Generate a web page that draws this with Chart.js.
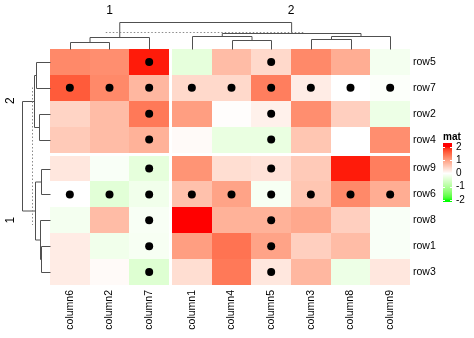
<!DOCTYPE html>
<html>
<head>
<meta charset="utf-8">
<script src="https://cdn.jsdelivr.net/npm/chart.js@4.4.1/dist/chart.umd.min.js"></script>
<style>
  html, body { margin: 0; padding: 0; background: #fff; }
  #wrap { width: 474px; height: 338px; position: relative; }
</style>
</head>
<body>
<div id="wrap"><canvas id="heatmap"></canvas></div>
<script>
// --- data (row / column order as clustered) ---
const rowNames = ["row5", "row7", "row2", "row4", "row9", "row6", "row8", "row1", "row3"];
const colNames = ["column6", "column2", "column7", "column1", "column4", "column5", "column3", "column8", "column9"];
const matValues = [
  [1.2, 1.15, 1.95, -0.35, 0.7, 0.4, 1.2, 0.85, -0.15],   // row5
  [1.6, 1.2, 0.75, 0.4, 0.4, 1.3, 0.2, 0.0, -0.05],       // row7
  [0.45, 0.7, 1.35, 1.0, 0.02, 0.15, 1.15, 0.5, -0.25],   // row2
  [0.55, 0.7, 0.8, 0.05, -0.3, -0.3, 0.6, 0.0, 1.15],     // row4
  [0.25, -0.08, -0.35, 1.1, 0.35, 0.3, 0.55, 1.95, 1.3],  // row9
  [0.0, -0.4, -0.2, 0.65, 0.95, -0.12, 0.6, 1.2, 0.85],   // row6
  [-0.15, 0.7, -0.1, 2.0, 0.8, 0.8, 0.9, 0.5, -0.08],     // row8
  [0.2, -0.2, -0.12, 1.0, 1.4, 0.95, 0.5, 0.7, -0.08],    // row1
  [0.2, 0.05, -0.45, 0.35, 1.35, 0.25, 0.75, -0.25, 0.25] // row3
];
const rowSplit = 4; // rows before this index are slice "2"
const colSplit = 3; // columns before this index are slice "1"
const rowSliceLabels = ["2", "1"];
const colSliceLabels = ["1", "2"];
const dotCols = ["column7", "column5"];
const dotRows = ["row7", "row6"];
// dendrograms: [mergeHeight, left, right]
const colTree = [27.5, [12, [7, "column6", "column2"], "column7"],
  [15.7, [13, "column1", [9.5, "column4", "column5"]], [13.2, [10.5, "column3", "column8"], "column9"]]];
const rowTree = [28.3, [16, [14, "row5", "row7"], [11, "row2", "row4"]],
  [15, [9, "row9", "row6"], [10, "row8", [9, "row1", "row3"]]]];
const colCut = 16.8;
const rowCut = 17.7;
const legendBreaks = [2, 1, 0, -1, -2];
const colorStops = [-2, 0, 2];
const colorValues = [[0, 255, 0], [255, 255, 255], [255, 0, 0]];

const X_GAP = 0.076;
const Y_GAP = 0.116;
const FONT = "'Liberation Sans', Arial, sans-serif";

function colPos(i) { return i + (i >= colSplit ? X_GAP : 0); }
function rowPos(i) { return i + (i >= rowSplit ? Y_GAP : 0); }

// --- colour ramp in LAB space (like colorRamp2) ---
function toLin(c) { c /= 255; return c <= 0.04045 ? c / 12.92 : Math.pow((c + 0.055) / 1.055, 2.4); }
function fromLin(c) {
  c = c <= 0.0031308 ? 12.92 * c : 1.055 * Math.pow(Math.max(c, 0), 1 / 2.4) - 0.055;
  return Math.round(Math.max(0, Math.min(1, c)) * 255);
}
function rgbToLab(rgb) {
  const r = toLin(rgb[0]), g = toLin(rgb[1]), b = toLin(rgb[2]);
  const X = (0.4124 * r + 0.3576 * g + 0.1805 * b) / 0.95047;
  const Y = 0.2126 * r + 0.7152 * g + 0.0722 * b;
  const Z = (0.0193 * r + 0.1192 * g + 0.9505 * b) / 1.08883;
  const f = t => t > 0.008856 ? Math.cbrt(t) : 7.787 * t + 16 / 116;
  const fx = f(X), fy = f(Y), fz = f(Z);
  return [116 * fy - 16, 500 * (fx - fy), 200 * (fy - fz)];
}
function labToRgb(lab) {
  const fy = (lab[0] + 16) / 116, fx = fy + lab[1] / 500, fz = fy - lab[2] / 200;
  const finv = t => { const t3 = t * t * t; return t3 > 0.008856 ? t3 : (t - 16 / 116) / 7.787; };
  const X = finv(fx) * 0.95047, Y = finv(fy), Z = finv(fz) * 1.08883;
  const r = 3.2406 * X - 1.5372 * Y - 0.4986 * Z;
  const g = -0.9689 * X + 1.8758 * Y + 0.0415 * Z;
  const b = 0.0557 * X - 0.2040 * Y + 1.0570 * Z;
  return "rgb(" + fromLin(r) + "," + fromLin(g) + "," + fromLin(b) + ")";
}
const labStops = colorValues.map(rgbToLab);
function colorFor(v) {
  v = Math.max(colorStops[0], Math.min(colorStops[colorStops.length - 1], v));
  let i = 0;
  while (i < colorStops.length - 2 && v > colorStops[i + 1]) i++;
  const t = (v - colorStops[i]) / (colorStops[i + 1] - colorStops[i]);
  const a = labStops[i], b = labStops[i + 1];
  return labToRgb([a[0] + (b[0] - a[0]) * t, a[1] + (b[1] - a[1]) * t, a[2] + (b[2] - a[2]) * t]);
}

// dots on selected rows/columns
const dotPoints = [];
rowNames.forEach((rn, r) => colNames.forEach((cn, c) => {
  if (dotCols.includes(cn) || dotRows.includes(rn)) {
    dotPoints.push({ x: colPos(c) + 0.5, y: rowPos(r) + 0.5 });
  }
}));

// --- plugin: cells, dendrograms, slice titles, legend ---
const heatmapPlugin = {
  id: "heatmapCells",
  beforeDatasetsDraw(chart) {
    const { ctx, scales: { x, y } } = chart;
    matValues.forEach((row, r) => row.forEach((v, c) => {
      const x0 = Math.round(x.getPixelForValue(colPos(c)));
      const x1 = Math.round(x.getPixelForValue(colPos(c) + 1));
      const y0 = Math.round(y.getPixelForValue(rowPos(r)));
      const y1 = Math.round(y.getPixelForValue(rowPos(r) + 1));
      ctx.fillStyle = colorFor(v);
      ctx.fillRect(x0, y0, x1 - x0, y1 - y0);
    }));
  },
  afterDraw(chart) {
    const { ctx, chartArea, scales: { x, y } } = chart;
    ctx.save();
    ctx.strokeStyle = "#505050";
    ctx.lineWidth = 1;

    // generic dendrogram: pos = along heatmap, depth = pixel distance from heatmap
    function drawTree(node, leafPos, line) {
      if (typeof node === "string") return { pos: leafPos(node), h: 0 };
      const L = drawTree(node[1], leafPos, line);
      const R = drawTree(node[2], leafPos, line);
      const h = node[0];
      line(L.pos, L.h, L.pos, h);
      line(L.pos, h, R.pos, h);
      line(R.pos, h, R.pos, R.h);
      return { pos: (L.pos + R.pos) / 2, h, L, R };
    }
    const colLeaf = n => Math.round(x.getPixelForValue(colPos(colNames.indexOf(n)) + 0.5)) + 0.5;
    const rowLeaf = n => Math.round(y.getPixelForValue(rowPos(rowNames.indexOf(n)) + 0.5)) + 0.5;
    const top = chartArea.top, left = chartArea.left;
    const colLine = (p1, h1, p2, h2) => {
      ctx.beginPath();
      ctx.moveTo(p1, Math.round(top - h1) + 0.5);
      ctx.lineTo(p2, Math.round(top - h2) + 0.5);
      ctx.stroke();
    };
    const rowLine = (p1, h1, p2, h2) => {
      ctx.beginPath();
      ctx.moveTo(Math.round(left - h1) + 0.5, p1);
      ctx.lineTo(Math.round(left - h2) + 0.5, p2);
      ctx.stroke();
    };
    const cRoot = drawTree(colTree, colLeaf, colLine);
    const rRoot = drawTree(rowTree, rowLeaf, rowLine);

    // dotted cut lines
    ctx.strokeStyle = "#8a8a8a";
    ctx.setLineDash([1.5, 2]);
    ctx.beginPath();
    ctx.moveTo(cRoot.L.pos - 14, Math.round(top - colCut) + 0.5);
    ctx.lineTo(cRoot.R.pos + 13, Math.round(top - colCut) + 0.5);
    ctx.stroke();
    ctx.beginPath();
    ctx.moveTo(Math.round(left - rowCut) + 0.5, rRoot.L.pos - 14);
    ctx.lineTo(Math.round(left - rowCut) + 0.5, rRoot.R.pos + 14);
    ctx.stroke();
    ctx.setLineDash([]);

    // slice titles
    ctx.fillStyle = "#000";
    ctx.font = "12px " + FONT;
    ctx.textAlign = "center";
    ctx.textBaseline = "middle";
    const colBlocks = [[0, colSplit], [colSplit, colNames.length]];
    colBlocks.forEach((b, i) => {
      const cx = (x.getPixelForValue(colPos(b[0])) + x.getPixelForValue(colPos(b[1] - 1) + 1)) / 2;
      ctx.fillText(colSliceLabels[i], cx, 10.5);
    });
    const rowBlocks = [[0, rowSplit], [rowSplit, rowNames.length]];
    rowBlocks.forEach((b, i) => {
      const cy = (y.getPixelForValue(rowPos(b[0])) + y.getPixelForValue(rowPos(b[1] - 1) + 1)) / 2;
      ctx.save();
      ctx.translate(10.5, cy);
      ctx.rotate(-Math.PI / 2);
      ctx.fillText(rowSliceLabels[i], 0, 0);
      ctx.restore();
    });

    // colour legend
    const bx = chartArea.right + 33, bw = 9;
    const yOf = v => 173.4 - v * 13.3;
    const barTop = 143, barBot = 202;
    for (let py = barTop; py < barBot; py++) {
      ctx.fillStyle = colorFor((173.4 - (py + 0.5)) / 13.3);
      ctx.fillRect(bx, py, bw, 1);
    }
    ctx.strokeStyle = "#fff";
    legendBreaks.forEach(v => {
      const ty = Math.round(yOf(v)) + 0.5;
      ctx.beginPath();
      ctx.moveTo(bx, ty); ctx.lineTo(bx + 2, ty);
      ctx.moveTo(bx + bw - 2, ty); ctx.lineTo(bx + bw, ty);
      ctx.stroke();
    });
    ctx.fillStyle = "#000";
    ctx.textAlign = "left";
    ctx.font = "bold 10px " + FONT;
    ctx.fillText("mat", bx, 137);
    ctx.font = "10px " + FONT;
    legendBreaks.forEach(v => ctx.fillText(String(v), bx + 13, yOf(v)));
    ctx.restore();
  }
};

new Chart(document.getElementById("heatmap"), {
  type: "scatter",
  data: {
    datasets: [{
      label: "dots",
      data: dotPoints,
      backgroundColor: "#000",
      borderWidth: 0,
      pointRadius: 4,
      pointHoverRadius: 4,
    }],
  },
  options: {
    responsive: true,
    maintainAspectRatio: false,
    animation: false,
    layout: { padding: { left: 50, top: 49, right: 0, bottom: 0 } },
    plugins: { legend: { display: false }, tooltip: { enabled: false } },
    scales: {
      x: {
        type: "linear",
        position: "bottom",
        min: 0,
        max: colNames.length + X_GAP,
        grid: { display: false, drawTicks: false },
        border: { display: false },
        afterBuildTicks: scale => {
          scale.ticks = colNames.map((n, i) => ({ value: colPos(i) + 0.5 }));
        },
        afterFit: scale => { scale.height = 53; },
        ticks: {
          autoSkip: false,
          minRotation: 90,
          maxRotation: 90,
          padding: 5,
          color: "#000",
          font: { family: FONT, size: 10.5 },
          callback: (v, i) => colNames[i],
        },
      },
      y: {
        type: "linear",
        position: "right",
        reverse: true,
        min: 0,
        max: rowNames.length + Y_GAP,
        grid: { display: false, drawTicks: false },
        border: { display: false },
        afterBuildTicks: scale => {
          scale.ticks = rowNames.map((n, i) => ({ value: rowPos(i) + 0.5 }));
        },
        afterFit: scale => { scale.width = 64; },
        ticks: {
          autoSkip: false,
          padding: 3,
          color: "#000",
          font: { family: FONT, size: 10.5 },
          callback: (v, i) => rowNames[i],
        },
      },
    },
  },
  plugins: [heatmapPlugin],
});
</script>
</body>
</html>
